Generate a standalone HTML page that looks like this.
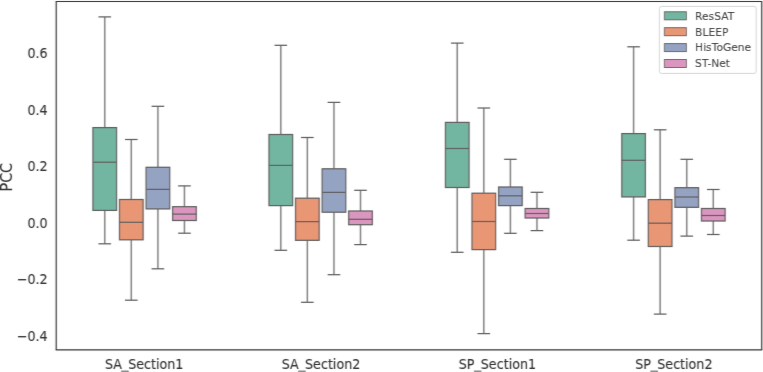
<!DOCTYPE html>
<html lang="en">
<head>
<meta charset="utf-8">
<title>PCC boxplot</title>
<style>
html,body{margin:0;padding:0;background:#fff;}
body{width:763px;height:372px;overflow:hidden;}
svg{display:block;}
text{font-family:"DejaVu Sans","Liberation Sans",sans-serif;fill:#333333;stroke:#333333;stroke-width:0.12px;}
.tk{font-size:12.7px;}
.lg{font-size:10.7px;}
.us{fill:#8c8c8c;stroke:#8c8c8c;stroke-width:0.9px;}
.yl{font-size:14.3px;}
.ln{stroke:#606060;stroke-width:1.25;fill:none;}
.wh{stroke:#7c7c7c;stroke-width:1.45;fill:none;}
</style>
</head>
<body>
<svg width="763" height="372" viewBox="0 0 763 372">
<rect x="0" y="0" width="763" height="372" fill="#ffffff"/>
<defs><filter id="soft" x="0" y="0" width="763" height="372" filterUnits="userSpaceOnUse"><feConvolveMatrix order="3" kernelMatrix="0.0056 0.0288 0.0056 0.1288 0.6624 0.1288 0.0056 0.0288 0.0056" divisor="1" edgeMode="duplicate" preserveAlpha="false"/></filter></defs>
<g filter="url(#soft)">
<g>
<line class="wh" x1="104.75" y1="16.90" x2="104.75" y2="127.60"/><line class="wh" x1="104.75" y1="210.40" x2="104.75" y2="243.80"/><line class="ln" x1="98.45" y1="16.90" x2="111.05" y2="16.90"/><line class="ln" x1="98.45" y1="243.80" x2="111.05" y2="243.80"/><rect class="ln" x="92.95" y="127.60" width="23.60" height="82.80" style="fill:#72b6a1"/><line class="ln" x1="92.95" y1="162.20" x2="116.55" y2="162.20"/>
<line class="wh" x1="131.30" y1="139.50" x2="131.30" y2="199.50"/><line class="wh" x1="131.30" y1="239.80" x2="131.30" y2="300.20"/><line class="ln" x1="125.00" y1="139.50" x2="137.60" y2="139.50"/><line class="ln" x1="125.00" y1="300.20" x2="137.60" y2="300.20"/><rect class="ln" x="119.50" y="199.50" width="23.60" height="40.30" style="fill:#e99675"/><line class="ln" x1="119.50" y1="222.30" x2="143.10" y2="222.30"/>
<line class="wh" x1="157.90" y1="106.30" x2="157.90" y2="167.30"/><line class="wh" x1="157.90" y1="208.90" x2="157.90" y2="268.80"/><line class="ln" x1="151.60" y1="106.30" x2="164.20" y2="106.30"/><line class="ln" x1="151.60" y1="268.80" x2="164.20" y2="268.80"/><rect class="ln" x="146.10" y="167.30" width="23.60" height="41.60" style="fill:#95a3c3"/><line class="ln" x1="146.10" y1="189.40" x2="169.70" y2="189.40"/>
<line class="wh" x1="184.45" y1="185.90" x2="184.45" y2="206.70"/><line class="wh" x1="184.45" y1="220.50" x2="184.45" y2="233.20"/><line class="ln" x1="178.15" y1="185.90" x2="190.75" y2="185.90"/><line class="ln" x1="178.15" y1="233.20" x2="190.75" y2="233.20"/><rect class="ln" x="172.65" y="206.70" width="23.60" height="13.80" style="fill:#db96c0"/><line class="ln" x1="172.65" y1="214.10" x2="196.25" y2="214.10"/>
</g>
<g>
<line class="wh" x1="280.80" y1="45.30" x2="280.80" y2="134.50"/><line class="wh" x1="280.80" y1="205.60" x2="280.80" y2="250.30"/><line class="ln" x1="274.50" y1="45.30" x2="287.10" y2="45.30"/><line class="ln" x1="274.50" y1="250.30" x2="287.10" y2="250.30"/><rect class="ln" x="269.00" y="134.50" width="23.60" height="71.10" style="fill:#72b6a1"/><line class="ln" x1="269.00" y1="165.40" x2="292.60" y2="165.40"/>
<line class="wh" x1="307.35" y1="137.50" x2="307.35" y2="198.20"/><line class="wh" x1="307.35" y1="240.30" x2="307.35" y2="302.30"/><line class="ln" x1="301.05" y1="137.50" x2="313.65" y2="137.50"/><line class="ln" x1="301.05" y1="302.30" x2="313.65" y2="302.30"/><rect class="ln" x="295.55" y="198.20" width="23.60" height="42.10" style="fill:#e99675"/><line class="ln" x1="295.55" y1="221.60" x2="319.15" y2="221.60"/>
<line class="wh" x1="333.95" y1="102.40" x2="333.95" y2="168.80"/><line class="wh" x1="333.95" y1="212.20" x2="333.95" y2="274.70"/><line class="ln" x1="327.65" y1="102.40" x2="340.25" y2="102.40"/><line class="ln" x1="327.65" y1="274.70" x2="340.25" y2="274.70"/><rect class="ln" x="322.15" y="168.80" width="23.60" height="43.40" style="fill:#95a3c3"/><line class="ln" x1="322.15" y1="192.40" x2="345.75" y2="192.40"/>
<line class="wh" x1="360.50" y1="190.30" x2="360.50" y2="211.00"/><line class="wh" x1="360.50" y1="224.70" x2="360.50" y2="244.60"/><line class="ln" x1="354.20" y1="190.30" x2="366.80" y2="190.30"/><line class="ln" x1="354.20" y1="244.60" x2="366.80" y2="244.60"/><rect class="ln" x="348.70" y="211.00" width="23.60" height="13.70" style="fill:#db96c0"/><line class="ln" x1="348.70" y1="219.30" x2="372.30" y2="219.30"/>
</g>
<g>
<line class="wh" x1="457.25" y1="43.10" x2="457.25" y2="122.40"/><line class="wh" x1="457.25" y1="187.50" x2="457.25" y2="252.30"/><line class="ln" x1="450.95" y1="43.10" x2="463.55" y2="43.10"/><line class="ln" x1="450.95" y1="252.30" x2="463.55" y2="252.30"/><rect class="ln" x="445.45" y="122.40" width="23.60" height="65.10" style="fill:#72b6a1"/><line class="ln" x1="445.45" y1="148.50" x2="469.05" y2="148.50"/>
<line class="wh" x1="483.80" y1="108.00" x2="483.80" y2="193.20"/><line class="wh" x1="483.80" y1="249.60" x2="483.80" y2="333.60"/><line class="ln" x1="477.50" y1="108.00" x2="490.10" y2="108.00"/><line class="ln" x1="477.50" y1="333.60" x2="490.10" y2="333.60"/><rect class="ln" x="472.00" y="193.20" width="23.60" height="56.40" style="fill:#e99675"/><line class="ln" x1="472.00" y1="221.50" x2="495.60" y2="221.50"/>
<line class="wh" x1="510.40" y1="159.30" x2="510.40" y2="187.00"/><line class="wh" x1="510.40" y1="205.60" x2="510.40" y2="233.30"/><line class="ln" x1="504.10" y1="159.30" x2="516.70" y2="159.30"/><line class="ln" x1="504.10" y1="233.30" x2="516.70" y2="233.30"/><rect class="ln" x="498.60" y="187.00" width="23.60" height="18.60" style="fill:#95a3c3"/><line class="ln" x1="498.60" y1="195.80" x2="522.20" y2="195.80"/>
<line class="wh" x1="536.95" y1="192.30" x2="536.95" y2="208.50"/><line class="wh" x1="536.95" y1="218.00" x2="536.95" y2="230.60"/><line class="ln" x1="530.65" y1="192.30" x2="543.25" y2="192.30"/><line class="ln" x1="530.65" y1="230.60" x2="543.25" y2="230.60"/><rect class="ln" x="525.15" y="208.50" width="23.60" height="9.50" style="fill:#db96c0"/><line class="ln" x1="525.15" y1="213.50" x2="548.75" y2="213.50"/>
</g>
<g>
<line class="wh" x1="633.60" y1="46.80" x2="633.60" y2="133.60"/><line class="wh" x1="633.60" y1="196.90" x2="633.60" y2="240.20"/><line class="ln" x1="627.30" y1="46.80" x2="639.90" y2="46.80"/><line class="ln" x1="627.30" y1="240.20" x2="639.90" y2="240.20"/><rect class="ln" x="621.80" y="133.60" width="23.60" height="63.30" style="fill:#72b6a1"/><line class="ln" x1="621.80" y1="160.30" x2="645.40" y2="160.30"/>
<line class="wh" x1="660.15" y1="129.80" x2="660.15" y2="199.60"/><line class="wh" x1="660.15" y1="246.50" x2="660.15" y2="314.10"/><line class="ln" x1="653.85" y1="129.80" x2="666.45" y2="129.80"/><line class="ln" x1="653.85" y1="314.10" x2="666.45" y2="314.10"/><rect class="ln" x="648.35" y="199.60" width="23.60" height="46.90" style="fill:#e99675"/><line class="ln" x1="648.35" y1="223.20" x2="671.95" y2="223.20"/>
<line class="wh" x1="686.75" y1="159.30" x2="686.75" y2="187.70"/><line class="wh" x1="686.75" y1="207.30" x2="686.75" y2="236.10"/><line class="ln" x1="680.45" y1="159.30" x2="693.05" y2="159.30"/><line class="ln" x1="680.45" y1="236.10" x2="693.05" y2="236.10"/><rect class="ln" x="674.95" y="187.70" width="23.60" height="19.60" style="fill:#95a3c3"/><line class="ln" x1="674.95" y1="197.00" x2="698.55" y2="197.00"/>
<line class="wh" x1="713.30" y1="189.50" x2="713.30" y2="208.50"/><line class="wh" x1="713.30" y1="221.00" x2="713.30" y2="234.50"/><line class="ln" x1="707.00" y1="189.50" x2="719.60" y2="189.50"/><line class="ln" x1="707.00" y1="234.50" x2="719.60" y2="234.50"/><rect class="ln" x="701.50" y="208.50" width="23.60" height="12.50" style="fill:#db96c0"/><line class="ln" x1="701.50" y1="215.50" x2="725.10" y2="215.50"/>
</g>
<line x1="55.75" y1="1.5" x2="762.2" y2="1.5" stroke="#363636" stroke-width="1.2"/>
<line x1="55.75" y1="349.92" x2="762.2" y2="349.92" stroke="#363636" stroke-width="1.2"/>
<line x1="56.25" y1="1.5" x2="56.25" y2="349.92" stroke="#363636" stroke-width="1.2"/>
<line x1="761.7" y1="1.5" x2="761.7" y2="349.92" stroke="#363636" stroke-width="1.2"/>
<text class="tk" transform="translate(47.6,53.50) scale(1,1.07)" y="4.63" text-anchor="end">0.6</text>
<text class="tk" transform="translate(47.6,110.00) scale(1,1.07)" y="4.63" text-anchor="end">0.4</text>
<text class="tk" transform="translate(47.6,166.45) scale(1,1.07)" y="4.63" text-anchor="end">0.2</text>
<text class="tk" transform="translate(47.6,222.90) scale(1,1.07)" y="4.63" text-anchor="end">0.0</text>
<text class="tk" transform="translate(47.6,279.40) scale(1,1.07)" y="4.63" text-anchor="end">−0.2</text>
<text class="tk" transform="translate(47.6,335.90) scale(1,1.07)" y="4.63" text-anchor="end">−0.4</text>
<text class="tk" transform="translate(144.15,368.65) scale(1,1.07)" text-anchor="middle">SA<tspan class="us" dy="0.1">_</tspan><tspan dy="-0.1">Section1</tspan></text>
<text class="tk" transform="translate(321.00,368.65) scale(1,1.07)" text-anchor="middle">SA<tspan class="us" dy="0.1">_</tspan><tspan dy="-0.1">Section2</tspan></text>
<text class="tk" transform="translate(497.40,368.65) scale(1,1.07)" text-anchor="middle">SP<tspan class="us" dy="0.1">_</tspan><tspan dy="-0.1">Section1</tspan></text>
<text class="tk" transform="translate(673.85,368.65) scale(1,1.07)" text-anchor="middle">SP<tspan class="us" dy="0.1">_</tspan><tspan dy="-0.1">Section2</tspan></text>
<text class="yl" transform="translate(11.7,177.2) rotate(-90) scale(1,1.05)" text-anchor="middle">PCC</text>
<rect x="659.4" y="6.4" width="96.8" height="67" rx="2.2" ry="2.2" fill="#ffffff" fill-opacity="0.8" stroke="#d4d4d4" stroke-width="1"/>
<rect x="664.35" y="11.80" width="22.1" height="8" fill="#72b6a1" stroke="#606060" stroke-width="0.95"/><text class="lg" transform="translate(695.1,19.60) scale(1,1.06)">ResSAT</text>
<rect x="664.35" y="27.70" width="22.1" height="8" fill="#e99675" stroke="#606060" stroke-width="0.95"/><text class="lg" transform="translate(695.1,35.50) scale(1,1.06)">BLEEP</text>
<rect x="664.35" y="43.60" width="22.1" height="8" fill="#95a3c3" stroke="#606060" stroke-width="0.95"/><text class="lg" transform="translate(695.1,51.40) scale(1,1.06)">HisToGene</text>
<rect x="664.35" y="59.50" width="22.1" height="8" fill="#db96c0" stroke="#606060" stroke-width="0.95"/><text class="lg" transform="translate(695.1,67.30) scale(1,1.06)">ST-Net</text>
</g>
</svg>
</body>
</html>
